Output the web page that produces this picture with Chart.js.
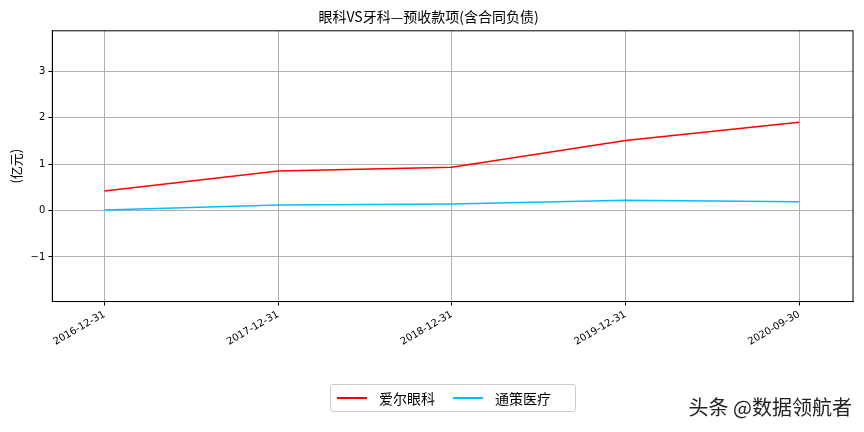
<!DOCTYPE html>
<html>
<head>
<meta charset="utf-8">
<script src="https://cdn.jsdelivr.net/npm/chart.js@4"></script>
<style>
  body { margin: 0; background: #fff; }
  #wrap { position: relative; width: 864px; height: 432px; }
  #legend { position: absolute; left: 330px; top: 384px; width: 246px; height: 28px; border: 1px solid #ccc; border-radius: 3px;
    font-family: 'Noto Sans CJK SC'; font-size: 14px; display: flex; align-items: center; box-sizing: border-box; }
  .item { display: flex; align-items: center; margin-left: 6px; margin-right: 12px; }
  .sw { width: 30px; height: 2px; margin-right: 12px; }
  #mark { position: absolute; right: 12px; top: 392px; font-family: 'Noto Sans CJK SC'; font-size: 20px; color: #222; }
</style>
</head>
<body>
<div id="wrap">
  <canvas id="c" width="864" height="432"></canvas>
  <div id="legend">
    <div class="item"><span class="sw" style="background:#ff0000"></span>爱尔眼科</div>
    <div class="item"><span class="sw" style="background:#00bfff"></span>通策医疗</div>
  </div>
  <div id="mark">头条 @数据领航者</div>
</div>
<script>
  const dates = ['2016-12-31', '2017-12-31', '2018-12-31', '2019-12-31', '2020-09-30'];
  const aier = [0.42, 0.85, 0.93, 1.51, 1.90];
  const tongce = [0.01, 0.12, 0.14, 0.22, 0.19];

  function pts(arr) {
    return arr.map(function (v, i) { return { x: i, y: v }; });
  }

  const frame = {
    id: 'frame',
    afterDraw: function (chart) {
      const a = chart.chartArea;
      const ctx = chart.ctx;
      ctx.save();
      ctx.strokeStyle = '#000';
      ctx.lineWidth = 1;
      ctx.strokeRect(a.left, a.top, a.right - a.left, a.bottom - a.top);
      ctx.restore();
    },
  };

  new Chart(document.getElementById('c'), {
    type: 'line',
    data: {
      datasets: [
        { label: '爱尔眼科', data: pts(aier), borderColor: '#ff0000', borderWidth: 1.5, pointRadius: 0, tension: 0 },
        { label: '通策医疗', data: pts(tongce), borderColor: '#00bfff', borderWidth: 1.5, pointRadius: 0, tension: 0 },
      ],
    },
    plugins: [frame],
    options: {
      responsive: false,
      animation: false,
      layout: { padding: { left: 4, right: 11, top: 0, bottom: 81 } },
      plugins: {
        legend: { display: false },
        tooltip: { enabled: false },
        title: {
          display: true,
          text: '眼科VS牙科—预收款项(含合同负债)',
          color: '#000',
          font: { family: 'Noto Sans CJK SC', size: 14, weight: 'normal' },
          padding: { top: 8, bottom: 6 },
        },
      },
      scales: {
        x: {
          type: 'linear',
          min: -0.3,
          max: 4.31,
          afterBuildTicks: function (axis) {
            axis.ticks = dates.map(function (d, i) { return { value: i }; });
          },
          ticks: {
            color: '#000',
            font: { family: 'DejaVu Sans', size: 10 },
            maxRotation: 30,
            minRotation: 30,
            callback: function (v) { return dates[v]; },
          },
          grid: { color: '#b0b0b0', tickColor: '#000', tickLength: 4 },
          border: { color: '#000' },
        },
        y: {
          min: -1.96,
          max: 3.87,
          afterBuildTicks: function (axis) {
            axis.ticks = [-1, 0, 1, 2, 3].map(function (v) { return { value: v }; });
          },
          ticks: {
            color: '#000',
            font: { family: 'DejaVu Sans', size: 10 },
            callback: function (v) { return v < 0 ? '\u2212' + Math.abs(v) : String(v); },
          },
          title: { display: true, text: '(亿元)', color: '#000', font: { family: 'Noto Sans CJK SC', size: 13 } },
          grid: { color: '#b0b0b0', tickColor: '#000', tickLength: 4 },
          border: { color: '#000' },
        },
      },
    },
  });
</script>
</body>
</html>
